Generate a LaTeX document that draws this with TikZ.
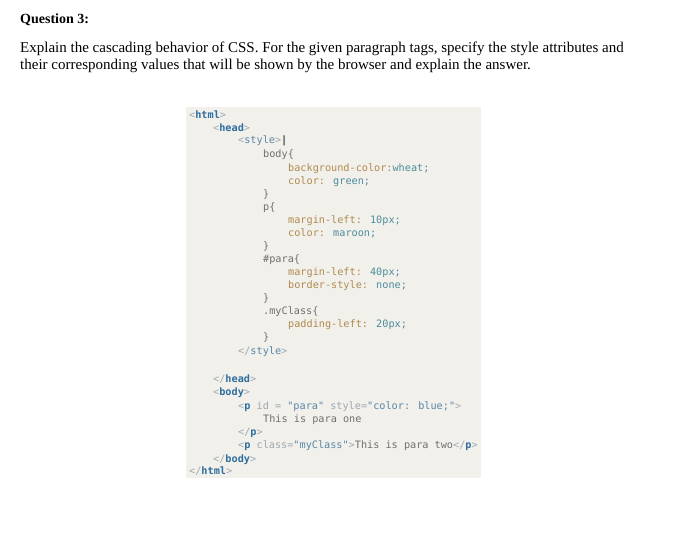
\documentclass[tikz,border=0pt]{standalone}
\usepackage{fontspec}
\setmainfont{Liberation Serif}
\newfontfamily\codefont{DejaVu Sans Mono}
\definecolor{codebg}{HTML}{F1F0EB}
\definecolor{tagc}{HTML}{2E6E9E}
\definecolor{brk}{HTML}{A0A8B0}
\definecolor{prop}{HTML}{B08A50}
\definecolor{val}{HTML}{4C8C9C}
\definecolor{sel}{HTML}{707070}
\definecolor{strc}{HTML}{5A86A8}
\newcommand{\tg}[1]{\textcolor{brk}{<}\textcolor{tagc}{\bfseries #1}\textcolor{brk}{>}}
\newcommand{\ctg}[1]{\textcolor{brk}{</}\textcolor{tagc}{\bfseries #1}\textcolor{brk}{>}}
\newcommand{\pv}[2]{\textcolor{prop}{#1}\textcolor{val}{#2}}
\tikzset{code/.style={anchor=base west,inner sep=0pt,font=\codefont\fontsize{10.2}{12}\selectfont,text=sel},
 txt/.style={anchor=base west,inner sep=0pt,font=\fontsize{15}{18}\selectfont}}
\begin{document}
\begin{tikzpicture}[x=1pt,y=-1pt]
\useasboundingbox (0,0) rectangle (700,539);
\fill[white] (0,0) rectangle (700,539);
\node[txt,font=\bfseries\fontsize{14}{17}\selectfont] (q) at (20,23) {Question 3:};
\node[txt] (l1) at (20,52) {Explain the cascading behavior of CSS. For the given paragraph tags, specify the style attributes and};
\node[txt] (l2) at (20,69) {their corresponding values that will be shown by the browser and explain the answer.};
\fill[codebg] (186,107) rectangle (481,478);
\node[code] (c1) at (189,118) {\tg{html}};
\node[code] (c2) at (213,131) {\tg{head}};
\node[code] (c3) at (238,143) {\textcolor{brk}{<}\textcolor{strc}{style}\textcolor{brk}{>}\textcolor{black}{|}};
\node[code] (c4) at (263,157) {body\{};
\node[code] (c5) at (288,171) {\pv{background-color:}{wheat;}};
\node[code] (c6) at (288,184) {\pv{color: }{green;}};
\node[code] (c7) at (263,197) {\}};
\node[code] (c8) at (263,210) {p\{};
\node[code] (c9) at (288,223) {\pv{margin-left: }{10px;}};
\node[code] (c10) at (288,236) {\pv{color: }{maroon;}};
\node[code] (c11) at (263,249) {\}};
\node[code] (c12) at (263,262) {\#para\{};
\node[code] (c13) at (288,275) {\pv{margin-left: }{40px;}};
\node[code] (c14) at (288,288) {\pv{border-style: }{none;}};
\node[code] (c15) at (263,301) {\}};
\node[code] (c16) at (263,314) {.myClass\{};
\node[code] (c17) at (288,327) {\pv{padding-left: }{20px;}};
\node[code] (c18) at (263,340) {\}};
\node[code] (c19) at (238,354) {\textcolor{brk}{</}\textcolor{strc}{style}\textcolor{brk}{>}};
\node[code] (c20) at (213,382) {\ctg{head}};
\node[code] (c21) at (213,395) {\tg{body}};
\node[code] (c22) at (238,409) {\textcolor{brk}{<}\textcolor{tagc}{\bfseries p} \textcolor{brk}{id = }\textcolor{strc}{"para"} \textcolor{brk}{style=}\textcolor{strc}{"color: blue;"}\textcolor{brk}{>}};
\node[code] (c23) at (263,422) {This is para one};
\node[code] (c24) at (238,435) {\ctg{p}};
\node[code] (c25) at (238,448) {\textcolor{brk}{<}\textcolor{tagc}{\bfseries p} \textcolor{brk}{class=}\textcolor{strc}{"myClass"}\textcolor{brk}{>}This is para two\ctg{p}};
\node[code] (c26) at (213,462) {\ctg{body}};
\node[code] (c27) at (189,474) {\ctg{html}};
\end{tikzpicture}
\end{document}
